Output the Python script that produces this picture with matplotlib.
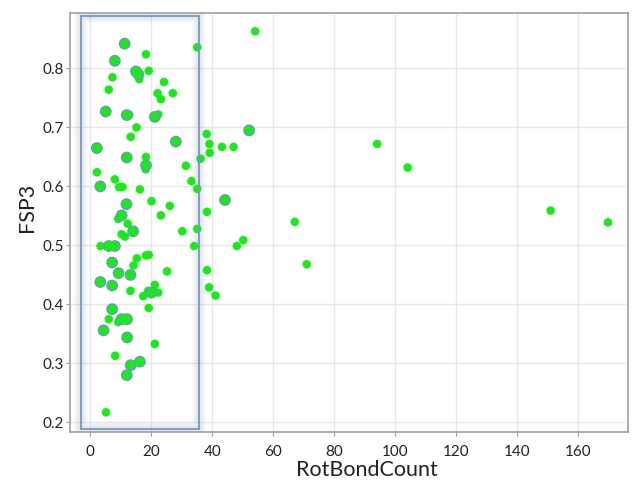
#!/usr/bin/env python3
"""FSP3 vs RotBondCount scatter with a selection box."""

import matplotlib

matplotlib.use("Agg")

import matplotlib.pyplot as plt
from matplotlib.patches import Rectangle

# points inside the selection (drawn with a blue halo)
sel_x = [11.3, 8.1, 15.0, 15.8, 5.1, 12.0, 21.2, 28.1, 2.2, 12.0, 18.3, 3.3,
         11.9, 10.3, 14.1, 6.1, 8.1, 7.2, 9.3, 13.2, 3.3, 7.2, 20.1, 7.2,
         10.3, 12.1, 4.4, 12.1, 16.3, 13.3, 12.0, 52.1, 44.2]
sel_y = [0.842, 0.813, 0.795, 0.790, 0.727, 0.721, 0.718, 0.676, 0.665, 0.649,
         0.636, 0.600, 0.570, 0.551, 0.524, 0.499, 0.499, 0.471, 0.453, 0.450,
         0.438, 0.432, 0.420, 0.392, 0.375, 0.375, 0.356, 0.344, 0.303, 0.297,
         0.280, 0.695, 0.577]

# plain points
pt_x = [54.1, 35.1, 38.2, 39.1, 39.2, 43.2, 47.0, 36.2, 33.2, 35.1, 38.3, 35.1,
        34.1, 67.1, 50.2, 48.1, 38.3, 71.0, 39.0, 41.1, 94.1, 104.1, 151.0,
        169.8, 18.3, 16.1, 19.2, 7.3, 24.2, 6.1, 22.1, 23.2, 27.1, 12.8, 22.3,
        15.2, 13.3, 18.3, 18.2, 31.4, 2.2, 8.1, 9.5, 10.6, 16.3, 20.1, 26.1,
        23.2, 9.2, 12.3, 10.3, 11.4, 30.2, 3.4, 15.3, 18.3, 19.2, 14.2, 25.2,
        21.2, 13.2, 19.0, 22.3, 17.4, 19.2, 6.1, 9.2, 21.2, 8.2, 5.2]
pt_y = [0.863, 0.836, 0.689, 0.672, 0.657, 0.667, 0.667, 0.647, 0.609, 0.596,
        0.557, 0.528, 0.499, 0.540, 0.509, 0.499, 0.458, 0.468, 0.429, 0.415,
        0.672, 0.632, 0.559, 0.539, 0.824, 0.782, 0.796, 0.785, 0.777, 0.764,
        0.758, 0.748, 0.758, 0.721, 0.722, 0.700, 0.684, 0.650, 0.629, 0.635,
        0.624, 0.612, 0.599, 0.599, 0.595, 0.575, 0.567, 0.551, 0.545, 0.537,
        0.519, 0.515, 0.524, 0.499, 0.478, 0.483, 0.484, 0.466, 0.456, 0.433,
        0.423, 0.423, 0.420, 0.414, 0.394, 0.375, 0.370, 0.333, 0.313, 0.217]

x_ticks = [0, 20, 40, 60, 80, 100, 120, 140, 160]
y_ticks = [0.2, 0.3, 0.4, 0.5, 0.6, 0.7, 0.8]

# selection box (data coords)
box_x = (-3.0, 35.7)
box_y = (0.1895, 0.889)

GREEN = "#14ee14"
HALO = "#7f86e0"

plt.rcParams["font.family"] = ["Lato", "DejaVu Sans"]

fig = plt.figure(figsize=(6.4, 4.91), dpi=100, facecolor="white")
ax = fig.add_axes([0.109, 0.120, 0.872, 0.8535])

ax.set_xlim(-6.7, 176.3)
ax.set_ylim(0.1836, 0.894)
ax.set_xticks(x_ticks)
ax.set_yticks(y_ticks)
ax.set_yticklabels([f"{v:.1f}" for v in y_ticks])
ax.grid(True, color="#e8e8e8", linewidth=1.0, zorder=0)
ax.set_axisbelow(True)

for side in ("top", "right", "bottom", "left"):
    ax.spines[side].set_color("#a0a0a0")
    ax.spines[side].set_linewidth(1.2)
ax.tick_params(axis="both", colors="#a0a0a0", length=3, width=0.8,
               labelcolor="#222222", labelsize=11)
ax.tick_params(axis="x", pad=6)
ax.tick_params(axis="y", pad=1.5)

# soft shadow around the box, then the box itself
w = box_x[1] - box_x[0]
h = box_y[1] - box_y[0]
for lw, a in [(10, 0.05), (7, 0.06), (4, 0.08)]:
    ax.add_patch(Rectangle((box_x[0], box_y[0]), w, h, fill=False,
                           edgecolor="#808080", linewidth=lw, alpha=a, zorder=1))
ax.add_patch(Rectangle((box_x[0], box_y[0]), w, h, fill=False,
                       edgecolor="#6e9bd0", linewidth=1.3, zorder=4))

ax.scatter(pt_x, pt_y, s=38, color=GREEN, edgecolors="none", zorder=3)
ax.scatter(sel_x, sel_y, s=72, color=HALO, edgecolors="none", zorder=3)
ax.scatter(sel_x, sel_y, s=46, color=GREEN, edgecolors="none", zorder=3)

ax.set_xlabel("RotBondCount", fontsize=15.5, color="#222222")
ax.set_ylabel("FSP3", fontsize=15.5, color="#222222")
ax.xaxis.set_label_coords(0.532, -0.066)
ax.yaxis.set_label_coords(-0.059, 0.537)

fig.savefig("out.png", dpi=100, facecolor="white")
